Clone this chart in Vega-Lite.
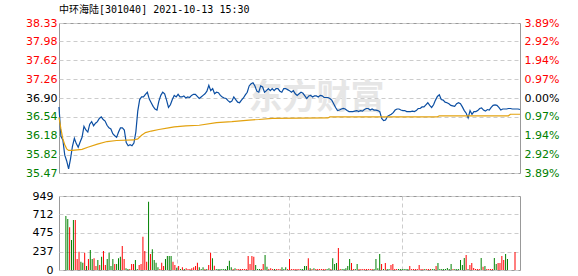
{
  "$schema": "https://vega.github.io/schema/vega-lite/v6.json",
  "background": "white",
  "padding": {"left": 25, "top": 4, "right": 0, "bottom": 0},
  "spacing": 10,
  "config": {
    "view": {"stroke": "#999999", "strokeWidth": 1},
    "axis": {"gridColor": "#cccccc", "gridDash": [4, 3], "gridWidth": 1, "domain": false, "ticks": false, "labelFont": "DejaVu Sans", "labelFontSize": 11, "labelColor": "#000000", "title": null, "labelOverlap": false}
  },
  "datasets": {
    "price": [
      {"m":0,"p":36.73},{"m":1,"p":36.17},{"m":2,"p":36.10},{"m":3,"p":35.81},{"m":4,"p":35.70},{"m":5,"p":35.55},{"m":6,"p":35.74},{"m":7,"p":35.98},{"m":8,"p":36.13},{"m":9,"p":36.03},
      {"m":10,"p":35.96},{"m":11,"p":36.06},{"m":12,"p":36.15},{"m":13,"p":36.36},{"m":14,"p":36.29},{"m":15,"p":36.25},{"m":16,"p":36.40},{"m":17,"p":36.45},{"m":18,"p":36.37},{"m":19,"p":36.42},
      {"m":20,"p":36.45},{"m":21,"p":36.51},{"m":22,"p":36.54},{"m":23,"p":36.49},{"m":24,"p":36.46},{"m":25,"p":36.38},{"m":26,"p":36.33},{"m":27,"p":36.31},{"m":28,"p":36.22},{"m":29,"p":36.18},
      {"m":30,"p":36.15},{"m":31,"p":36.25},{"m":32,"p":36.33},{"m":33,"p":36.33},{"m":34,"p":36.29},{"m":35,"p":36.05},{"m":36,"p":35.99},{"m":37,"p":36.01},{"m":38,"p":35.99},{"m":39,"p":36.04},
      {"m":40,"p":36.25},{"m":41,"p":36.65},{"m":42,"p":36.87},{"m":43,"p":36.92},{"m":44,"p":36.92},{"m":45,"p":36.97},{"m":46,"p":37.01},{"m":47,"p":36.88},{"m":48,"p":36.81},{"m":49,"p":36.74},
      {"m":50,"p":36.69},{"m":51,"p":36.67},{"m":52,"p":36.84},{"m":53,"p":36.95},{"m":54,"p":37.01},{"m":55,"p":36.98},{"m":56,"p":36.86},{"m":57,"p":36.72},{"m":58,"p":36.77},{"m":59,"p":36.87},
      {"m":60,"p":36.95},{"m":61,"p":36.92},{"m":62,"p":36.97},{"m":63,"p":36.92},{"m":64,"p":36.92},{"m":65,"p":36.94},{"m":66,"p":36.90},{"m":67,"p":36.92},{"m":68,"p":36.91},{"m":69,"p":36.95},
      {"m":70,"p":36.97},{"m":71,"p":36.97},{"m":72,"p":36.93},{"m":73,"p":36.89},{"m":74,"p":36.92},{"m":75,"p":36.95},{"m":76,"p":36.98},{"m":77,"p":37.03},{"m":78,"p":37.14},{"m":79,"p":37.04},
      {"m":80,"p":37.08},{"m":81,"p":36.98},{"m":82,"p":37.01},{"m":83,"p":37.00},{"m":84,"p":36.95},{"m":85,"p":36.92},{"m":86,"p":36.90},{"m":87,"p":36.89},{"m":88,"p":36.85},{"m":89,"p":36.82},
      {"m":90,"p":36.84},{"m":91,"p":36.92},{"m":92,"p":36.87},{"m":93,"p":36.82},{"m":94,"p":36.81},{"m":95,"p":36.86},{"m":96,"p":36.90},{"m":97,"p":36.96},{"m":98,"p":37.01},{"m":99,"p":37.13},
      {"m":100,"p":37.17},{"m":101,"p":37.19},{"m":102,"p":37.13},{"m":103,"p":37.03},{"m":104,"p":37.01},{"m":105,"p":37.13},{"m":106,"p":37.11},{"m":107,"p":37.01},{"m":108,"p":37.04},{"m":109,"p":37.08},
      {"m":110,"p":37.04},{"m":111,"p":37.08},{"m":112,"p":37.04},{"m":113,"p":37.08},{"m":114,"p":37.08},{"m":115,"p":37.03},{"m":116,"p":37.01},{"m":117,"p":37.08},{"m":118,"p":37.08},{"m":119,"p":37.06},
      {"m":120,"p":37.04},{"m":121,"p":37.01},{"m":122,"p":37.04},{"m":123,"p":36.98},{"m":124,"p":36.95},{"m":125,"p":36.98},{"m":126,"p":37.01},{"m":127,"p":36.99},{"m":128,"p":36.94},{"m":129,"p":36.89},
      {"m":130,"p":36.94},{"m":131,"p":36.95},{"m":132,"p":36.92},{"m":133,"p":36.94},{"m":134,"p":36.94},{"m":135,"p":36.92},{"m":136,"p":36.95},{"m":137,"p":36.94},{"m":138,"p":36.91},{"m":139,"p":36.91},
      {"m":140,"p":36.91},{"m":141,"p":36.89},{"m":142,"p":36.86},{"m":143,"p":36.79},{"m":144,"p":36.72},{"m":145,"p":36.66},{"m":146,"p":36.67},{"m":147,"p":36.69},{"m":148,"p":36.70},{"m":149,"p":36.69},
      {"m":150,"p":36.66},{"m":151,"p":36.64},{"m":152,"p":36.64},{"m":153,"p":36.64},{"m":154,"p":36.65},{"m":155,"p":36.66},{"m":156,"p":36.64},{"m":157,"p":36.66},{"m":158,"p":36.65},{"m":159,"p":36.68},
      {"m":160,"p":36.70},{"m":161,"p":36.70},{"m":162,"p":36.67},{"m":163,"p":36.69},{"m":164,"p":36.67},{"m":165,"p":36.67},{"m":166,"p":36.66},{"m":167,"p":36.64},{"m":168,"p":36.51},{"m":169,"p":36.47},
      {"m":170,"p":36.48},{"m":171,"p":36.55},{"m":172,"p":36.57},{"m":173,"p":36.59},{"m":174,"p":36.62},{"m":175,"p":36.67},{"m":176,"p":36.69},{"m":177,"p":36.69},{"m":178,"p":36.67},{"m":179,"p":36.66},
      {"m":180,"p":36.66},{"m":181,"p":36.64},{"m":182,"p":36.64},{"m":183,"p":36.64},{"m":184,"p":36.65},{"m":185,"p":36.64},{"m":186,"p":36.66},{"m":187,"p":36.70},{"m":188,"p":36.70},{"m":189,"p":36.73},
      {"m":190,"p":36.73},{"m":191,"p":36.77},{"m":192,"p":36.81},{"m":193,"p":36.76},{"m":194,"p":36.72},{"m":195,"p":36.77},{"m":196,"p":36.86},{"m":197,"p":36.93},{"m":198,"p":36.96},{"m":199,"p":36.87},
      {"m":200,"p":36.86},{"m":201,"p":36.82},{"m":202,"p":36.81},{"m":203,"p":36.79},{"m":204,"p":36.76},{"m":205,"p":36.75},{"m":206,"p":36.74},{"m":207,"p":36.79},{"m":208,"p":36.81},{"m":209,"p":36.79},
      {"m":210,"p":36.73},{"m":211,"p":36.66},{"m":212,"p":36.61},{"m":213,"p":36.52},{"m":214,"p":36.66},{"m":215,"p":36.59},{"m":216,"p":36.64},{"m":217,"p":36.64},{"m":218,"p":36.66},{"m":219,"p":36.70},
      {"m":220,"p":36.71},{"m":221,"p":36.67},{"m":222,"p":36.65},{"m":223,"p":36.68},{"m":224,"p":36.67},{"m":225,"p":36.72},{"m":226,"p":36.76},{"m":227,"p":36.77},{"m":228,"p":36.76},{"m":229,"p":36.72},
      {"m":230,"p":36.67},{"m":231,"p":36.69},{"m":232,"p":36.69},{"m":233,"p":36.69},{"m":234,"p":36.70},{"m":235,"p":36.70},{"m":236,"p":36.69},{"m":237,"p":36.69},{"m":238,"p":36.69},{"m":239,"p":36.69},
      {"m":240,"p":36.68}
    ],
    "avg": [
      {"m":0,"a":36.53},{"m":1,"a":36.31},{"m":2,"a":36.12},{"m":3,"a":36.01},{"m":4,"a":35.93},{"m":5,"a":35.90},{"m":7,"a":35.90},{"m":12,"a":35.92},{"m":15,"a":35.96},{"m":20,"a":36.02},
      {"m":25,"a":36.07},{"m":30,"a":36.09},{"m":39,"a":36.10},{"m":41,"a":36.12},{"m":43,"a":36.19},{"m":45,"a":36.24},{"m":48,"a":36.27},{"m":52,"a":36.30},{"m":57,"a":36.33},{"m":60,"a":36.35},
      {"m":66,"a":36.37},{"m":73,"a":36.38},{"m":82,"a":36.43},{"m":90,"a":36.45},{"m":99,"a":36.48},{"m":104,"a":36.49},{"m":111,"a":36.51},{"m":140,"a":36.52},{"m":141,"a":36.54},{"m":197,"a":36.54},
      {"m":198,"a":36.56},{"m":234,"a":36.56},{"m":235,"a":36.59},{"m":240,"a":36.59}
    ],
    "vol": [
      {"m":1,"v":692,"c":"d"},{"m":2,"v":654,"c":"d"},{"m":3,"v":547,"c":"u"},{"m":4,"v":385,"c":"d"},{"m":5,"v":641,"c":"d"},{"m":6,"v":641,"c":"u"},{"m":7,"v":141,"c":"u"},{"m":8,"v":235,"c":"u"},{"m":9,"v":107,"c":"d"},{"m":10,"v":94,"c":"d"},
      {"m":11,"v":222,"c":"u"},{"m":12,"v":51,"c":"d"},{"m":13,"v":141,"c":"u"},{"m":14,"v":256,"c":"d"},{"m":15,"v":141,"c":"d"},{"m":16,"v":150,"c":"u"},{"m":17,"v":51,"c":"u"},{"m":18,"v":128,"c":"d"},{"m":19,"v":64,"c":"u"},{"m":20,"v":171,"c":"d"},
      {"m":21,"v":244,"c":"u"},{"m":22,"v":64,"c":"u"},{"m":23,"v":141,"c":"d"},{"m":24,"v":222,"c":"d"},{"m":25,"v":51,"c":"d"},{"m":26,"v":141,"c":"d"},{"m":27,"v":77,"c":"u"},{"m":28,"v":77,"c":"d"},{"m":29,"v":150,"c":"d"},{"m":30,"v":171,"c":"d"},
      {"m":31,"v":308,"c":"u"},{"m":32,"v":141,"c":"u"},{"m":33,"v":21,"c":"d"},{"m":34,"v":12,"c":"d"},{"m":35,"v":12,"c":"u"},{"m":36,"v":77,"c":"u"},{"m":37,"v":77,"c":"u"},{"m":38,"v":128,"c":"d"},{"m":39,"v":12,"c":"d"},{"m":40,"v":64,"c":"u"},
      {"m":41,"v":77,"c":"u"},{"m":42,"v":428,"c":"u"},{"m":43,"v":244,"c":"u"},{"m":44,"v":107,"c":"u"},{"m":45,"v":876,"c":"d"},{"m":46,"v":205,"c":"u"},{"m":47,"v":265,"c":"d"},{"m":48,"v":128,"c":"d"},{"m":49,"v":94,"c":"d"},{"m":50,"v":34,"c":"d"},
      {"m":51,"v":12,"c":"u"},{"m":52,"v":94,"c":"u"},{"m":53,"v":51,"c":"u"},{"m":54,"v":141,"c":"d"},{"m":55,"v":180,"c":"d"},{"m":56,"v":180,"c":"d"},{"m":57,"v":180,"c":"d"},{"m":58,"v":107,"c":"u"},{"m":59,"v":64,"c":"u"},{"m":60,"v":30,"c":"d"},
      {"m":61,"v":51,"c":"u"},{"m":62,"v":12,"c":"d"},{"m":63,"v":34,"c":"u"},{"m":64,"v":12,"c":"d"},{"m":65,"v":21,"c":"u"},{"m":66,"v":12,"c":"u"},{"m":67,"v":12,"c":"u"},{"m":68,"v":21,"c":"u"},{"m":69,"v":34,"c":"u"},{"m":70,"v":51,"c":"u"},
      {"m":71,"v":94,"c":"u"},{"m":72,"v":34,"c":"d"},{"m":73,"v":12,"c":"d"},{"m":74,"v":34,"c":"d"},{"m":75,"v":12,"c":"u"},{"m":76,"v":12,"c":"d"},{"m":77,"v":64,"c":"u"},{"m":78,"v":222,"c":"u"},{"m":79,"v":150,"c":"d"},{"m":80,"v":56,"c":"u"},
      {"m":81,"v":12,"c":"d"},{"m":82,"v":12,"c":"d"},{"m":83,"v":12,"c":"d"},{"m":84,"v":12,"c":"d"},{"m":85,"v":12,"c":"d"},{"m":86,"v":12,"c":"d"},{"m":87,"v":51,"c":"d"},{"m":88,"v":120,"c":"d"},{"m":89,"v":34,"c":"d"},{"m":90,"v":12,"c":"u"},
      {"m":91,"v":21,"c":"d"},{"m":92,"v":12,"c":"u"},{"m":93,"v":12,"c":"u"},{"m":94,"v":12,"c":"u"},{"m":95,"v":12,"c":"u"},{"m":96,"v":12,"c":"u"},{"m":97,"v":12,"c":"u"},{"m":98,"v":180,"c":"u"},{"m":99,"v":77,"c":"u"},{"m":100,"v":180,"c":"u"},
      {"m":101,"v":171,"c":"u"},{"m":102,"v":64,"c":"d"},{"m":103,"v":12,"c":"d"},{"m":104,"v":12,"c":"d"},{"m":105,"v":12,"c":"u"},{"m":106,"v":77,"c":"u"},{"m":107,"v":192,"c":"d"},{"m":108,"v":43,"c":"d"},{"m":109,"v":12,"c":"u"},{"m":110,"v":21,"c":"u"},
      {"m":111,"v":12,"c":"u"},{"m":112,"v":12,"c":"d"},{"m":113,"v":12,"c":"u"},{"m":114,"v":12,"c":"u"},{"m":115,"v":12,"c":"u"},{"m":116,"v":34,"c":"d"},{"m":117,"v":12,"c":"d"},{"m":118,"v":34,"c":"d"},{"m":119,"v":12,"c":"u"},{"m":120,"v":141,"c":"u"},
      {"m":121,"v":12,"c":"u"},{"m":122,"v":12,"c":"u"},{"m":123,"v":12,"c":"u"},{"m":124,"v":12,"c":"u"},{"m":125,"v":12,"c":"u"},{"m":126,"v":12,"c":"d"},{"m":127,"v":12,"c":"d"},{"m":128,"v":51,"c":"d"},{"m":129,"v":51,"c":"d"},{"m":130,"v":150,"c":"u"},
      {"m":131,"v":21,"c":"d"},{"m":132,"v":12,"c":"u"},{"m":133,"v":21,"c":"d"},{"m":134,"v":12,"c":"u"},{"m":135,"v":12,"c":"u"},{"m":136,"v":12,"c":"u"},{"m":137,"v":12,"c":"u"},{"m":138,"v":12,"c":"u"},{"m":139,"v":12,"c":"u"},{"m":140,"v":12,"c":"d"},
      {"m":141,"v":21,"c":"d"},{"m":142,"v":12,"c":"u"},{"m":143,"v":150,"c":"d"},{"m":144,"v":77,"c":"d"},{"m":145,"v":90,"c":"d"},{"m":146,"v":282,"c":"u"},{"m":147,"v":12,"c":"u"},{"m":148,"v":12,"c":"d"},{"m":149,"v":12,"c":"d"},{"m":150,"v":21,"c":"d"},
      {"m":151,"v":51,"c":"d"},{"m":152,"v":141,"c":"d"},{"m":153,"v":90,"c":"u"},{"m":154,"v":12,"c":"u"},{"m":155,"v":12,"c":"d"},{"m":156,"v":77,"c":"d"},{"m":157,"v":12,"c":"u"},{"m":158,"v":12,"c":"u"},{"m":159,"v":12,"c":"u"},{"m":160,"v":12,"c":"u"},
      {"m":161,"v":12,"c":"u"},{"m":162,"v":12,"c":"u"},{"m":163,"v":12,"c":"u"},{"m":164,"v":12,"c":"u"},{"m":165,"v":12,"c":"d"},{"m":166,"v":141,"c":"d"},{"m":167,"v":21,"c":"d"},{"m":168,"v":205,"c":"d"},{"m":169,"v":77,"c":"u"},{"m":170,"v":12,"c":"d"},
      {"m":171,"v":90,"c":"u"},{"m":172,"v":12,"c":"d"},{"m":173,"v":12,"c":"d"},{"m":174,"v":64,"c":"u"},{"m":175,"v":77,"c":"u"},{"m":176,"v":12,"c":"u"},{"m":177,"v":12,"c":"u"},{"m":178,"v":12,"c":"d"},{"m":179,"v":12,"c":"d"},{"m":180,"v":12,"c":"d"},
      {"m":181,"v":12,"c":"d"},{"m":182,"v":12,"c":"d"},{"m":183,"v":12,"c":"d"},{"m":184,"v":51,"c":"u"},{"m":185,"v":12,"c":"u"},{"m":186,"v":12,"c":"u"},{"m":187,"v":12,"c":"u"},{"m":188,"v":12,"c":"u"},{"m":189,"v":64,"c":"u"},{"m":190,"v":12,"c":"u"},
      {"m":191,"v":12,"c":"u"},{"m":192,"v":12,"c":"d"},{"m":193,"v":12,"c":"u"},{"m":194,"v":12,"c":"u"},{"m":195,"v":12,"c":"u"},{"m":196,"v":12,"c":"d"},{"m":197,"v":12,"c":"d"},{"m":198,"v":51,"c":"u"},{"m":199,"v":90,"c":"d"},{"m":200,"v":12,"c":"d"},
      {"m":201,"v":12,"c":"d"},{"m":202,"v":12,"c":"d"},{"m":203,"v":12,"c":"d"},{"m":204,"v":26,"c":"d"},{"m":205,"v":12,"c":"d"},{"m":206,"v":77,"c":"d"},{"m":207,"v":12,"c":"u"},{"m":208,"v":12,"c":"d"},{"m":209,"v":12,"c":"d"},{"m":210,"v":12,"c":"d"},
      {"m":211,"v":128,"c":"d"},{"m":212,"v":64,"c":"d"},{"m":213,"v":154,"c":"d"},{"m":214,"v":192,"c":"u"},{"m":215,"v":12,"c":"d"},{"m":216,"v":64,"c":"u"},{"m":217,"v":90,"c":"u"},{"m":218,"v":26,"c":"u"},{"m":219,"v":12,"c":"u"},{"m":220,"v":12,"c":"u"},
      {"m":221,"v":12,"c":"u"},{"m":222,"v":154,"c":"d"},{"m":223,"v":43,"c":"u"},{"m":224,"v":51,"c":"d"},{"m":225,"v":12,"c":"u"},{"m":226,"v":12,"c":"u"},{"m":227,"v":12,"c":"u"},{"m":228,"v":12,"c":"u"},{"m":229,"v":154,"c":"d"},{"m":230,"v":77,"c":"d"},
      {"m":231,"v":90,"c":"u"},{"m":232,"v":90,"c":"u"},{"m":233,"v":180,"c":"u"},{"m":234,"v":128,"c":"u"},{"m":235,"v":205,"c":"d"},{"m":236,"v":141,"c":"d"},{"m":240,"v":231,"c":"u"}
    ]
  },
  "vconcat": [
    {
      "width": 461,
      "height": 150,
      "title": {"text": "中环海陆[301040] 2021-10-13 15:30", "anchor": "start", "frame": "group", "font": "DejaVu Sans Mono, Noto Sans CJK SC", "fontSize": 10, "fontWeight": "normal", "color": "#000000", "baseline": "alphabetic", "offset": -6},
      "layer": [
        {
          "data": {"values": [{}]},
          "mark": {"type": "text", "text": "东方财富", "font": "Noto Sans CJK SC", "fontSize": 34, "fontWeight": "bold", "color": "#e6e6e6"},
          "encoding": {
            "x": {"datum": 134, "type": "quantitative", "axis": null},
            "y": {"datum": 36.89, "type": "quantitative", "axis": null}
          }
        },
        {
          "data": {"name": "price"},
          "mark": {"type": "line", "color": "#0b4ea2", "strokeWidth": 1.2},
          "encoding": {
            "x": {"field": "m", "type": "quantitative", "scale": {"domain": [0, 240], "nice": false},
              "axis": {"values": [0, 60, 120, 180, 240], "labelExpr": "datum.value == 0 ? '09:30' : datum.value == 60 ? '10:30' : datum.value == 120 ? '11:30/13:00' : datum.value == 180 ? '14:00' : '15:00'", "labelFont": "DejaVu Sans Mono", "labelFontSize": 10, "labelPadding": 5, "labelFlush": true, "grid": true}},
            "y": {"field": "p", "type": "quantitative", "scale": {"domain": [35.47, 38.33], "nice": false, "zero": false},
              "axis": {"values": [35.47, 35.82, 36.18, 36.54, 36.9, 37.26, 37.62, 37.98, 38.33], "format": ".2f", "labelPadding": 2, "grid": true,
                "labelColor": {"condition": [{"test": "datum.value > 36.91", "value": "#ff0000"}, {"test": "datum.value < 36.89", "value": "#008000"}], "value": "#000000"}}}
          }
        },
        {
          "data": {"name": "avg"},
          "mark": {"type": "line", "color": "#e3a20f", "strokeWidth": 1.2},
          "encoding": {
            "x": {"field": "m", "type": "quantitative"},
            "y": {"field": "a", "type": "quantitative",
              "axis": {"orient": "right", "values": [35.47, 35.82, 36.18, 36.54, 36.9, 37.26, 37.62, 37.98, 38.33], "labelPadding": 4, "grid": false,
                "labelExpr": "datum.value > 38.2 ? '3.89%' : datum.value > 37.9 ? '2.92%' : datum.value > 37.5 ? '1.94%' : datum.value > 37.1 ? '0.97%' : datum.value > 36.8 ? '0.00%' : datum.value > 36.4 ? '0.97%' : datum.value > 36.0 ? '1.94%' : datum.value > 35.7 ? '2.92%' : '3.89%'",
                "labelColor": {"condition": [{"test": "datum.value > 36.91", "value": "#ff0000"}, {"test": "datum.value < 36.89", "value": "#008000"}], "value": "#000000"}}}
          }
        }
      ],
      "resolve": {"axis": {"y": "independent"}}
    },
    {
      "width": 461,
      "height": 74,
      "data": {"name": "vol"},
      "mark": {"type": "bar", "orient": "vertical", "size": 1},
      "encoding": {
        "x": {"field": "m", "type": "quantitative", "scale": {"domain": [0, 240], "nice": false},
          "axis": {"values": [60, 120, 180], "labels": false, "grid": true}},
        "y": {"field": "v", "type": "quantitative", "scale": {"domain": [0, 949], "nice": false},
          "axis": {"values": [0, 237, 475, 712, 949], "labelPadding": 6, "grid": true}},
        "color": {"field": "c", "type": "nominal", "scale": {"domain": ["u", "d"], "range": ["#ff0000", "#008000"]}, "legend": null}
      }
    }
  ]
}
